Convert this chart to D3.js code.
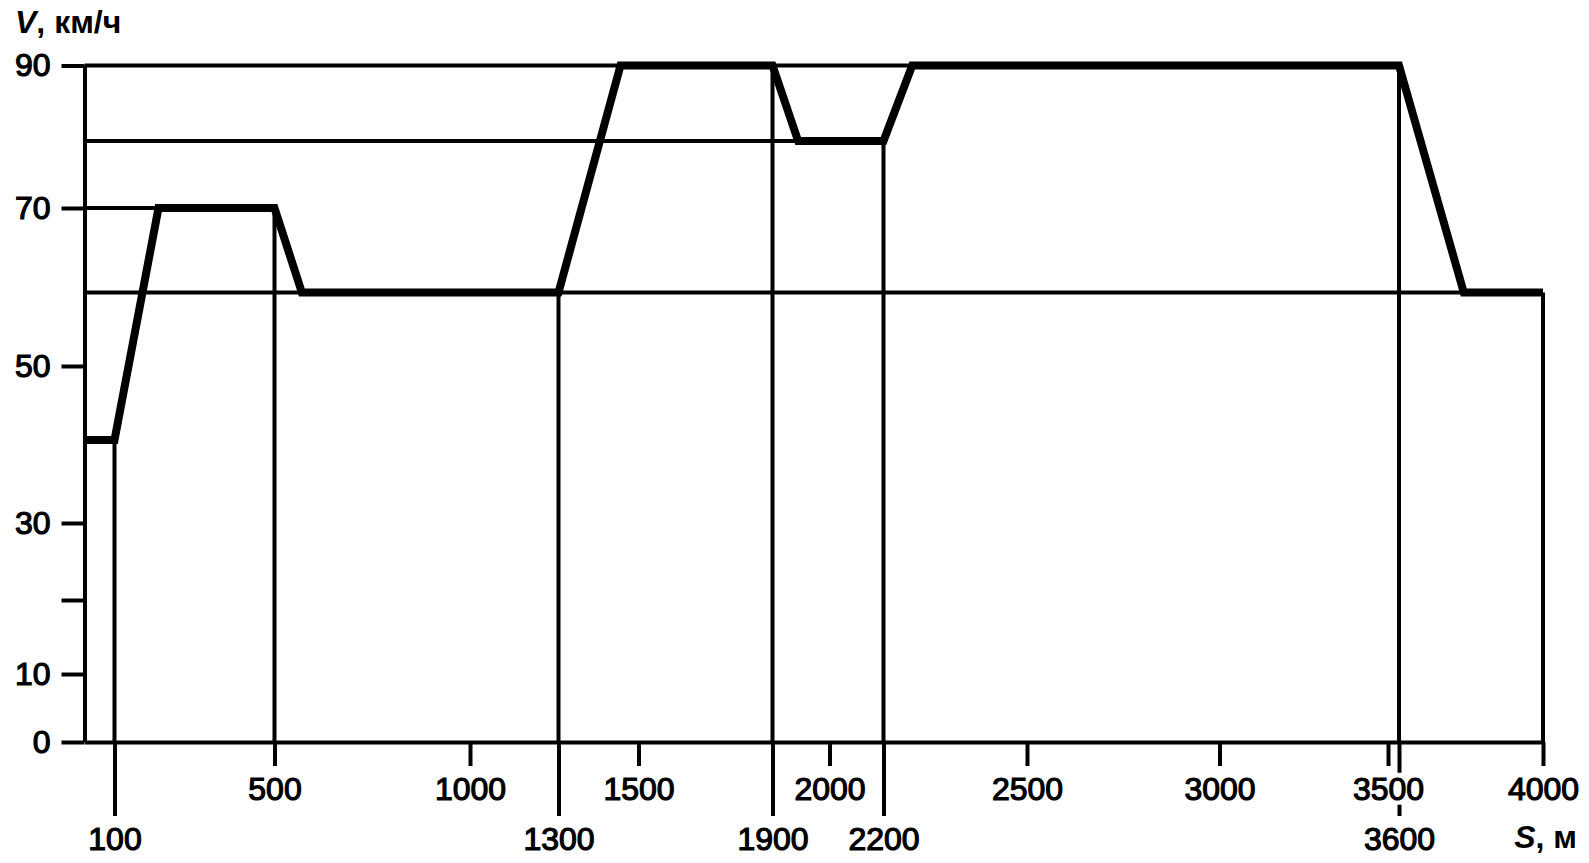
<!DOCTYPE html>
<html>
<head>
<meta charset="utf-8">
<script src="https://cdn.jsdelivr.net/npm/d3@7"></script>
<style>
  html, body { margin: 0; padding: 0; background: #fff; }
  svg { display: block; }
  text { font-family: "Liberation Sans", Arial, sans-serif; font-size: 32px; fill: #000; }
</style>
</head>
<body>
<svg id="chart" width="1589" height="863"></svg>
<script>
// ---------- data ----------
const distance = [0, 100, 210, 500, 570, 1300, 1455, 1900, 1945, 2200, 2260, 3600, 3780, 4000];
const speed    = [40, 40, 70, 70, 60, 60, 90, 90, 80, 80, 90, 90, 60, 60];

const speedTicks      = [0, 10, 20, 30, 50, 70, 90];
const speedTickLabels = ["0", "10", "", "30", "50", "70", "90"];
const distanceTicks   = [500, 1000, 1500, 2000, 2500, 3000, 3500, 4000];
const distanceMarks   = [100, 1300, 1900, 2200, 3600];

const yTitle = ["V", ", км/ч"];
const xTitle = ["S", ", м"];

// ---------- layout (schematic, non-uniform axes) ----------
const xBreaks = [0, 100, 500, 1000, 1300, 1500, 1900, 2000, 2200, 2500, 3000, 3500, 3600, 4000];
const xPixels = [84.5, 114.5, 274.5, 470, 558.5, 638.5, 772.5, 829.5, 883.5, 1027, 1219.5, 1388, 1399, 1543];
const yBreaks = [0, 10, 20, 30, 40, 50, 60, 70, 80, 90];
const yPixels = [742, 674, 600, 523, 440, 366, 292.5, 208, 141, 65.5];

const thin = 4, thick = 8;

const svg = d3.select("#chart");
const x = d3.scaleLinear().domain(xBreaks).range(xPixels);
const y = d3.scaleLinear().domain(yBreaks).range(yPixels);

const pts = distance.map((s, i) => ({ s, v: speed[i] }));

// horizontal guide lines: from s=0 to the last point of each speed level
const levels = Array.from(new Set(speed));
const guides = levels.map(v => ({ v, s1: d3.max(pts.filter(p => p.v === v), p => p.s) }));
svg.append("g").selectAll("line").data(guides).join("line")
  .attr("x1", x(0)).attr("x2", d => x(d.s1))
  .attr("y1", d => y(d.v)).attr("y2", d => y(d.v))
  .attr("stroke", "#000").attr("stroke-width", thin);

// vertical drop lines at the end of every plateau
const drops = pts.filter((p, i) => i > 0 && pts[i - 1].v === p.v);
svg.append("g").selectAll("line").data(drops).join("line")
  .attr("x1", d => x(d.s)).attr("x2", d => x(d.s))
  .attr("y1", d => y(d.v)).attr("y2", y(0))
  .attr("stroke", "#000").attr("stroke-width", thin);

// lower row of distance marks (long ticks)
const axMarks = svg.append("g").attr("transform", `translate(0,${y(0)})`)
  .call(d3.axisBottom(x).tickValues(distanceMarks).tickFormat(d3.format("d"))
        .tickSize(74).tickSizeOuter(0).tickPadding(11));
axMarks.select(".domain").remove();

// upper row of distance ticks
const axTicks = svg.append("g").attr("transform", `translate(0,${y(0)})`)
  .call(d3.axisBottom(x).tickValues(distanceTicks).tickFormat(d3.format("d"))
        .tickSize(24).tickSizeOuter(0).tickPadding(11));

// y axis
const axY = svg.append("g").attr("transform", `translate(${x(0)},0)`)
  .call(d3.axisLeft(y).tickValues(speedTicks)
        .tickFormat((d, i) => speedTickLabels[i])
        .tickSize(23).tickSizeOuter(0).tickPadding(11));

[axMarks, axTicks, axY].forEach(g => {
  g.attr("font-family", null).attr("font-size", null);
  g.selectAll("line").attr("stroke", "#000").attr("stroke-width", thin);
  g.selectAll(".domain").attr("stroke", "#000").attr("stroke-width", thin);
  g.selectAll("text").style("font-size", "32px").attr("fill", "#000")
    .attr("stroke", "#000").attr("stroke-width", 1.2);
});

// white backing behind the upper tick labels (masks the 3600 line under "3500")
axTicks.selectAll(".tick").each(function () {
  const t = d3.select(this).select("text");
  const b = t.node().getBBox();
  d3.select(this).insert("rect", "text")
    .attr("x", b.x).attr("y", b.y + 2).attr("width", b.width).attr("height", b.height - 4)
    .attr("fill", "#fff");
});

// thick speed profile
svg.append("path").datum(pts)
  .attr("d", d3.line().x(d => x(d.s)).y(d => y(d.v)))
  .attr("fill", "none").attr("stroke", "#000").attr("stroke-width", thick)
  .attr("stroke-linejoin", "miter").attr("stroke-linecap", "butt");

// axis titles
const ty = svg.append("text").attr("x", 15).attr("y", 33).attr("font-weight", "bold");
ty.append("tspan").attr("font-style", "italic").text(yTitle[0]);
ty.append("tspan").text(yTitle[1]);

const tx = svg.append("text").attr("x", 1577).attr("y", 848)
  .attr("text-anchor", "end").attr("font-weight", "bold");
tx.append("tspan").attr("font-style", "italic").text(xTitle[0]);
tx.append("tspan").text(xTitle[1]);
</script>
</body>
</html>
